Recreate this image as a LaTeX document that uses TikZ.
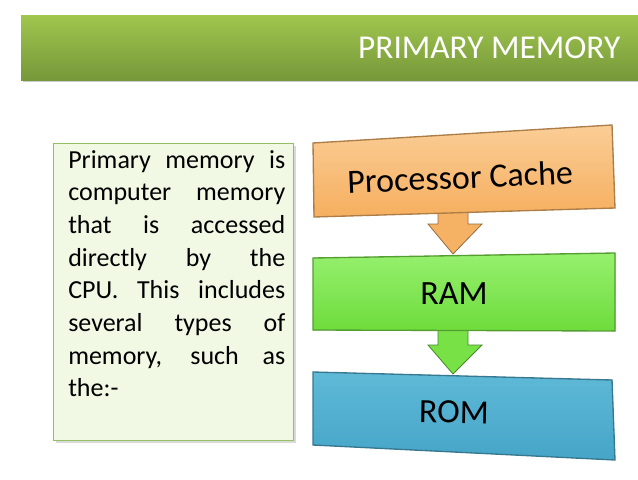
\documentclass[tikz,border=0pt]{standalone}
\usepackage{fontspec}
\setmainfont{Carlito}
\begin{document}
\begin{tikzpicture}[x=0.75pt,y=-0.75pt,
  lbl/.style={font=\fontsize{25.5}{28}\selectfont,text=black},
  arr/.style={draw=#1!60!black,line width=0.6pt}]
\useasboundingbox (0,0) rectangle (638,479);
% banner
\fill[black!20] (23,18) rectangle (638,82);
\shade[top color={rgb,255:red,160;green,198;blue,78},bottom color={rgb,255:red,118;green,152;blue,58}] (21,15) rectangle (638,80);
\node[anchor=east,text=white,font=\fontsize{25}{28}\selectfont] (title) at (625,48) {PRIMARY MEMORY};
% left box
\fill[black!15] (56,146) rectangle (296,443);
\node[draw={rgb,255:red,150;green,190;blue,100},fill={rgb,255:red,241;green,249;blue,228},line width=0.6pt,
  minimum width=240*0.75pt,minimum height=297*0.75pt,anchor=north west,inner sep=0pt] (txt) at (53,143) {};
\node[anchor=north west,text width=217*0.75pt,align=justify,font=\fontsize{19.5}{24.5}\selectfont,inner sep=0pt] (body) at (68,150)
 {Primary memory is\linebreak computer memory\linebreak that is accessed\linebreak directly by the\linebreak CPU. This includes\linebreak several types of\linebreak memory, such as\linebreak the:-};
% arrows
\definecolor{orA}{RGB}{246,178,100}
\definecolor{grA}{RGB}{120,225,70}
\definecolor{blA}{RGB}{75,172,205}
\draw[arr=orA,fill=orA] (438,210) -- (468,210) -- (468,224) -- (482,224) -- (453,254) -- (428,224) -- (438,224) -- cycle;
\draw[arr=grA,fill=grA] (438,325) -- (468,325) -- (468,345) -- (482,345) -- (453,374) -- (428,345) -- (438,345) -- cycle;
% boxes
\coordinate (c1) at (460,177);
\filldraw[draw=orA!70!black,line width=1pt,top color={rgb,255:red,250;green,205;blue,150},bottom color={rgb,255:red,246;green,175;blue,95}]
 (313,143) -- (612,125) -- (615,208) -- (314,217) -- cycle;
\node[lbl,rotate=2.5] (pc) at (c1) {Processor Cache};
\filldraw[draw=grA!70!black,line width=1pt,top color={rgb,255:red,150;green,240;blue,110},bottom color={rgb,255:red,110;green,220;blue,60}]
 (313,258) -- (615,253) -- (615,331) -- (313,330) -- cycle;
\node[lbl] (ram) at (454,294) {RAM};
\filldraw[draw=blA!70!black,line width=1pt,top color={rgb,255:red,95;green,185;blue,215},bottom color={rgb,255:red,70;green,165;blue,200}]
 (313,372) -- (612,380) -- (615,460) -- (313,445) -- cycle;
\node[lbl,rotate=-1] (rom) at (454,412) {ROM};
\end{tikzpicture}
\end{document}
